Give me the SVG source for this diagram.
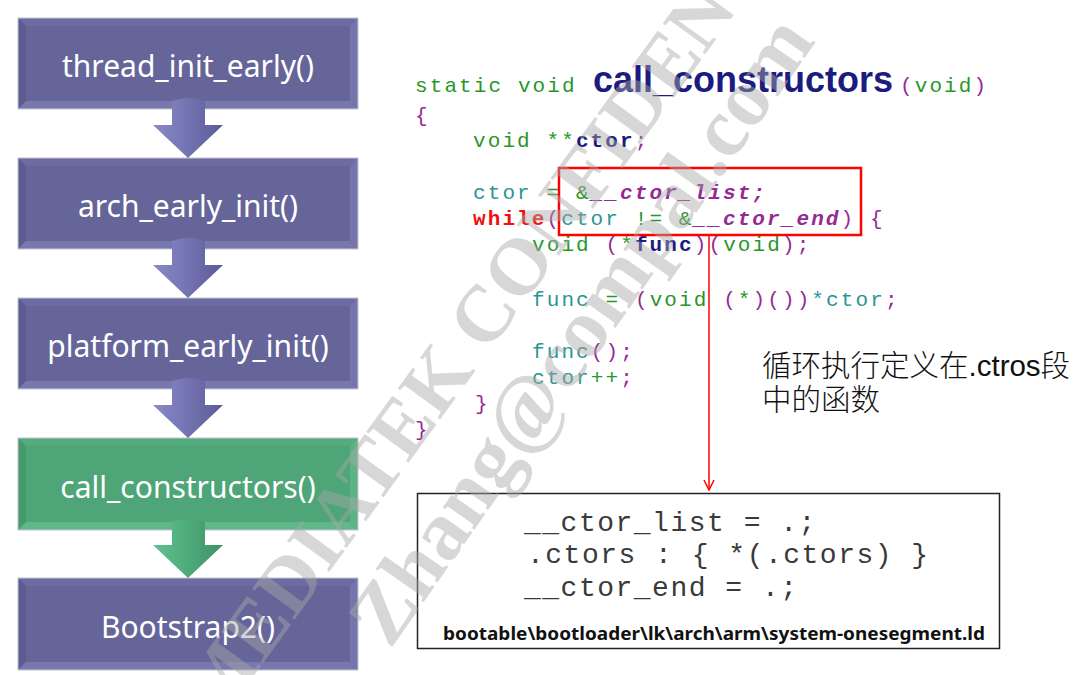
<svg xmlns="http://www.w3.org/2000/svg" width="1090" height="675" viewBox="0 0 1090 675">
<defs>
<style>
.box-text{font-family:"Noto Sans","Open Sans",sans-serif;font-size:30px;fill:#ffffff;text-anchor:middle}
.code{font-family:"Liberation Mono",monospace;font-size:21px;letter-spacing:2.1px;white-space:pre}
.g{fill:#2a962a}
.t{fill:#2a9595}
.p{fill:#952a95}
.n{fill:#1c1c80;font-weight:bold}
.r{fill:#f01010;font-weight:bold}
.pi{fill:#952a95;font-weight:bold;font-style:italic}
.ld{font-family:"Liberation Mono",monospace;font-size:28px;letter-spacing:1.5px;fill:#3a3a3a;white-space:pre}
.cn{font-family:"Liberation Sans","Noto Sans CJK SC",sans-serif;font-size:29.5px;font-weight:300;fill:#111111}
.wm{font-family:"Liberation Serif",serif;font-weight:bold;fill:#a8a8a8;opacity:0.45}
.outline{fill:none;stroke:#c4c4d0;stroke-width:1}
</style>
<linearGradient id="gArrowP" x1="0" y1="0" x2="1" y2="0">
<stop offset="0" stop-color="#8a8ac8"/>
<stop offset="0.5" stop-color="#7373b2"/>
<stop offset="1" stop-color="#5a5a94"/>
</linearGradient>
<linearGradient id="gArrowG" x1="0" y1="0" x2="1" y2="0">
<stop offset="0" stop-color="#62c290"/>
<stop offset="0.5" stop-color="#4eaa7b"/>
<stop offset="1" stop-color="#3d9166"/>
</linearGradient>
<marker id="vhead" viewBox="0 0 12 12" refX="11" refY="6" markerWidth="12" markerHeight="12" markerUnits="userSpaceOnUse" orient="auto">
<path d="M1,1 L11,6 L1,11" fill="none" stroke="#ff0000" stroke-width="1.5"/>
</marker>
</defs>
<rect width="1090" height="675" fill="#ffffff"/>

<!-- flowchart nodes -->
<g id="node-thread-init">
<rect x="18" y="18" width="340" height="91" fill="#65659a"/>
<polygon points="18,18 358,18 350,26 26,26" fill="#6c6ca2"/>
<polygon points="18,18 26,26 26,101 18,109" fill="#5c5c91"/>
<polygon points="358,18 358,109 350,101 350,26" fill="#7575ac"/>
<polygon points="18,109 26,101 350,101 358,109" fill="#7878ae"/>
<rect x="18" y="18" width="340" height="91" class="outline"/>
<text x="188" y="77" class="box-text">thread_init_early()</text>
</g>
<g id="node-arch-early">
<rect x="18" y="158" width="340" height="91" fill="#65659a"/>
<polygon points="18,158 358,158 350,166 26,166" fill="#6c6ca2"/>
<polygon points="18,158 26,166 26,241 18,249" fill="#5c5c91"/>
<polygon points="358,158 358,249 350,241 350,166" fill="#7575ac"/>
<polygon points="18,249 26,241 350,241 358,249" fill="#7878ae"/>
<rect x="18" y="158" width="340" height="91" class="outline"/>
<text x="188" y="217" class="box-text">arch_early_init()</text>
</g>
<g id="node-platform-early">
<rect x="18" y="298" width="340" height="91" fill="#65659a"/>
<polygon points="18,298 358,298 350,306 26,306" fill="#6c6ca2"/>
<polygon points="18,298 26,306 26,381 18,389" fill="#5c5c91"/>
<polygon points="358,298 358,389 350,381 350,306" fill="#7575ac"/>
<polygon points="18,389 26,381 350,381 358,389" fill="#7878ae"/>
<rect x="18" y="298" width="340" height="91" class="outline"/>
<text x="188" y="357" class="box-text">platform_early_init()</text>
</g>
<g id="node-call-constructors">
<rect x="18" y="438" width="340" height="92" fill="#4ea577"/>
<polygon points="18,438 358,438 350,446 26,446" fill="#55ab7d"/>
<polygon points="18,438 26,446 26,522 18,530" fill="#46996d"/>
<polygon points="358,438 358,530 350,522 350,446" fill="#5cb486"/>
<polygon points="18,530 26,522 350,522 358,530" fill="#60b789"/>
<rect x="18" y="438" width="340" height="92" class="outline"/>
<text x="188" y="498" class="box-text">call_constructors()</text>
</g>
<g id="node-bootstrap2">
<rect x="18" y="578" width="340" height="92" fill="#65659a"/>
<polygon points="18,578 358,578 350,586 26,586" fill="#6c6ca2"/>
<polygon points="18,578 26,586 26,662 18,670" fill="#5c5c91"/>
<polygon points="358,578 358,670 350,662 350,586" fill="#7575ac"/>
<polygon points="18,670 26,662 350,662 358,670" fill="#7878ae"/>
<rect x="18" y="578" width="340" height="92" class="outline"/>
<text x="188" y="638" class="box-text">Bootstrap2()</text>
</g>

<!-- code listing -->
<g id="node-code">
<text x="415" y="92" class="code"><tspan class="g">static void</tspan></text>
<text x="593" y="92" font-family="Liberation Sans,Arial,sans-serif" font-weight="bold" font-size="36" fill="#1c1c80">call_constructors</text>
<text x="900" y="92" class="code"><tspan class="p">(</tspan><tspan class="g">void</tspan><tspan class="p">)</tspan></text>
<text x="415" y="122" class="code"><tspan class="p">{</tspan></text>
<text x="473" y="147" class="code"><tspan class="g">void **</tspan><tspan class="n">ctor</tspan><tspan class="p">;</tspan></text>
<text x="473" y="199" class="code"><tspan class="t">ctor</tspan><tspan class="g"> = &amp;</tspan><tspan class="pi">__ctor_list;</tspan></text>
<text x="473" y="225" class="code"><tspan class="r">while</tspan><tspan class="p">(</tspan><tspan class="t">ctor</tspan><tspan class="g"> != &amp;</tspan><tspan class="pi">__ctor_end</tspan><tspan class="p">) {</tspan></text>
<text x="532" y="251" class="code"><tspan class="g">void </tspan><tspan class="p">(</tspan><tspan class="g">*</tspan><tspan class="n">func</tspan><tspan class="p">)(</tspan><tspan class="g">void</tspan><tspan class="p">);</tspan></text>
<text x="532" y="306" class="code"><tspan class="t">func</tspan><tspan class="g"> = </tspan><tspan class="p">(</tspan><tspan class="g">void </tspan><tspan class="p">(</tspan><tspan class="g">*</tspan><tspan class="p">)())</tspan><tspan class="t">*ctor</tspan><tspan class="p">;</tspan></text>
<text x="532" y="358" class="code"><tspan class="t">func</tspan><tspan class="p">();</tspan></text>
<text x="532" y="384" class="code"><tspan class="t">ctor</tspan><tspan class="g">++</tspan><tspan class="p">;</tspan></text>
<text x="475" y="410" class="code"><tspan class="p">}</tspan></text>
<text x="415" y="436" class="code"><tspan class="p">}</tspan></text>
<rect x="559" y="168" width="302" height="67" fill="none" stroke="#ff0000" stroke-width="2.5"/>
</g>

<g id="node-note">
<text x="762" y="376" class="cn">循环执行定义在.ctros段</text>
<text x="762" y="410" class="cn">中的函数</text>
</g>

<g id="node-linker">
<rect x="417.5" y="493.5" width="582" height="155" fill="#ffffff" stroke="#222222" stroke-width="1.5"/>
<text x="524" y="531" class="ld">__ctor_list = .;</text>
<text x="527" y="563" class="ld">.ctors : { *(.ctors) }</text>
<text x="524" y="596" class="ld">__ctor_end = .;</text>
<text x="443" y="640" font-family="Noto Sans,Open Sans,sans-serif" font-weight="bold" font-size="17" fill="#111111" textLength="542" lengthAdjust="spacingAndGlyphs">bootable\bootloader\lk\arch\arm\system-onesegment.ld</text>
</g>

<!-- connectors -->
<g id="connectors">
<path d="M172,101 Q188.5,95 205,101 L205,125 L223,125 L188,158 L153,125 L172,125 Z" fill="url(#gArrowP)"/>
<path d="M172,241 Q188.5,235 205,241 L205,265 L223,265 L188,298 L153,265 L172,265 Z" fill="url(#gArrowP)"/>
<path d="M172,381 Q188.5,375 205,381 L205,405 L223,405 L188,438 L153,405 L172,405 Z" fill="url(#gArrowP)"/>
<path d="M172,522 Q188.5,516 205,522 L205,545 L223,545 L188,578 L153,545 L172,545 Z" fill="url(#gArrowG)"/>
<line x1="709" y1="235" x2="709" y2="490" stroke="#ff0000" stroke-width="1.5" marker-end="url(#vhead)"/>
</g>

<!-- watermark -->
<g id="watermark">
<text class="wm" font-size="80" transform="translate(218,725) rotate(-54)">MEDIATEK CONFIDENTIAL</text>
<text class="wm" font-size="84" transform="translate(390,650) rotate(-55)">Zhang@compal.com</text>
</g>
</svg>
